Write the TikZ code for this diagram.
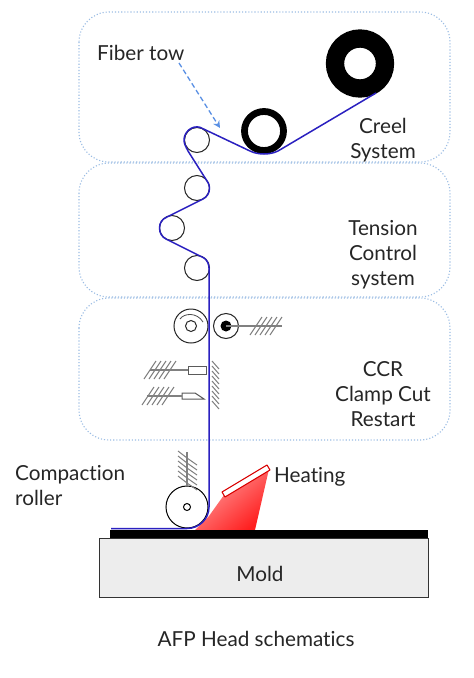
\documentclass[tikz,border=0pt]{standalone}
\usepackage{fontspec}
\setmainfont{Lato}[Ligatures=NoCommon]
\usetikzlibrary{arrows.meta}
\definecolor{tow}{HTML}{2A20C0}
\definecolor{zone}{HTML}{9ABCE4}
\definecolor{fix}{HTML}{808080}
\definecolor{arrowblue}{HTML}{5A90E4}
\definecolor{txt}{HTML}{262626}
\tikzset{
  zonebox/.style={draw=zone,line width=1.1pt,dotted,rounded corners=30pt},
  roller/.style={circle,draw=black!85,line width=1pt,inner sep=0pt,minimum size=25pt,fill=none},
  spool/.style={circle,draw=black,fill=none,inner sep=0pt},
  lab/.style={font=\fontsize{20.7}{25}\selectfont,text=txt,align=center,inner sep=0pt},
  towline/.style={draw=tow,line width=1.5pt,line join=round},
  rod/.style={draw=fix,line width=1.3pt},
  hatch/.style={draw=fix,line width=1pt},
  part/.style={draw=fix!70!black,line width=1pt,fill=white},
}
\begin{document}
\begin{tikzpicture}[x=1pt,y=-1pt]
\useasboundingbox (0,0) rectangle (474,678);
\fill[white] (0,0) rectangle (474,678);
% zones
\draw[zonebox] (79,12) rectangle (450,162);
\draw[zonebox] (79,163) rectangle (450,297);
\draw[zonebox] (79,298) rectangle (450,440);
% spools
\node[spool,line width=18.3pt,minimum size=50pt] (bigspool) at (360,63.5) {};
\node[spool,line width=6.8pt,minimum size=39pt] (midspool) at (264,131) {};
\node[roller] (r1) at (197,140) {};
\node[roller] (r2) at (197,188) {};
\node[roller] (r3) at (172,228) {};
\node[roller] (r4) at (197,268) {};
% CCR rollers
\node[circle,draw=black!85,line width=1pt,minimum size=34pt,inner sep=0pt] (cut) at (191,326) {};
\node[circle,draw=black!85,line width=1pt,minimum size=11pt,inner sep=0pt] (cuthub) at (191,326) {};
\draw[black!70,line width=.8pt] (180,319) .. controls (184,313) and (197,312) .. (203,322);
\node[circle,draw=black!85,line width=1pt,minimum size=25pt,inner sep=0pt] (anvil) at (226,326) {};
\node[circle,fill=black,minimum size=11pt,inner sep=0pt] (anvilhub) at (226,326) {};
\coordinate (anvilfix) at (282,326);
\draw[rod] (anvilhub.center) -- (anvilfix);
\draw[fix,line width=2.5pt] (256,326) -- (280,326);
\foreach \x in {0,5,...,20}{\draw[hatch] (250+\x,335) -- (256+\x,326) (256+\x,326) -- (262+\x,317);}
% clamp
\node[part,minimum width=18pt,minimum height=8pt,inner sep=0pt] (clamp) at (197,370) {};
\coordinate (clampfix) at (150,370);
\draw[rod] (clampfix) -- (clamp.west);
\draw[fix,line width=2.5pt] (150,370) -- (171,370);
\foreach \x in {0,5,...,20}{\draw[hatch] (144+\x,379) -- (150+\x,370) (150+\x,370) -- (156+\x,361);}
% knife
\draw[part] (182,393) -- (195,393) -- (204,399) -- (182,399) -- cycle;
\coordinate (knife) at (182,396);
\coordinate (knifefix) at (147,396);
\draw[rod] (knifefix) -- (knife);
\draw[fix,line width=2.5pt] (148,396) -- (168,396);
\foreach \x in {0,5,...,20}{\draw[hatch] (142+\x,405) -- (148+\x,396) (148+\x,396) -- (154+\x,387);}
% wall
\foreach \y in {0,5,...,40}{\draw[hatch] (212,361+\y) -- (219,369+\y);}
% heat
\shade[bottom color=red!88,top color=red!38,shading angle=40] (224,495) -- (269,469) -- (255,530) -- (195,530) -- (209,516) -- cycle;
\draw[red!85!black,line width=1.1pt,fill=white,line join=round] (222,492) -- (267,465) -- (270,470) -- (225,497) -- cycle;
% compaction roller
\node[circle,draw=black,line width=1pt,fill=white,minimum size=42pt,inner sep=0pt] (comp) at (187,507) {};
\node[circle,draw=black,line width=1pt,minimum size=7pt,inner sep=0pt] (comphub) at (187,507) {};
\coordinate (compfix) at (187,452);
\draw[rod] (compfix) -- (comp.north);
\draw[fix,line width=2.5pt] (187,456) -- (187,478);
\foreach \y in {0,5,...,25}{\draw[hatch] (178,451+\y) -- (187,458+\y) (187,458+\y) -- (197,465+\y);}
% mold and layup
\node[draw=black!80,fill=black!7,line width=.8pt,minimum width=329pt,minimum height=59pt,inner sep=0pt] (mold) at (263.5,567.5) {};
\fill[black] (110,530) rectangle (428,538);
% tow
\coordinate (towstart) at (376,93);
\coordinate (towend) at (111,528.5);
\draw[towline] (towstart) -- (278,151) .. controls (270,155) and (258,155) .. (250,151)
 -- (200,127.3) .. controls (192,125) and (184,132) .. (184,140)
 .. controls (184,144) and (186,147) .. (188,151)
 -- (207,181) .. controls (209,184) and (209.5,186) .. (209.5,188)
 .. controls (209.5,193) and (207,197) .. (203,199)
 -- (167,217) .. controls (162,219) and (159.5,223) .. (159.5,228)
 .. controls (159.5,233) and (162,237) .. (166,239)
 -- (204,258) .. controls (207,260) and (209,264) .. (209,268)
 -- (209,507) .. controls (209,519) and (199,528.5) .. (187,528.5) -- (towend);
% fiber tow arrow
\coordinate (towpoint) at (220,128);
\node[lab,anchor=west] (fibertow) at (97,53) {Fiber tow};
\coordinate (towtail) at (179,63);
\draw[arrowblue,line width=1.3pt,dash pattern=on 5pt off 3pt,-{Stealth[length=7pt,width=7pt]}] (towtail) -- (towpoint);
% labels
\node[lab] (creel) at (383,140.5) {Creel\\System};
\node[lab] (tension) at (383,255) {Tension\\Control\\system};
\node[lab] (ccr) at (383,394) {CCR\\Clamp Cut\\Restart};
\node[lab,anchor=west,align=left] (complab) at (15,485.5) {Compaction\\roller};
\node[lab,anchor=west] (heatlab) at (274,477) {Heating};
\node[lab] (moldlab) at (260,574) {Mold};
\node[lab] (title) at (256,639) {AFP Head schematics};
\end{tikzpicture}
\end{document}
